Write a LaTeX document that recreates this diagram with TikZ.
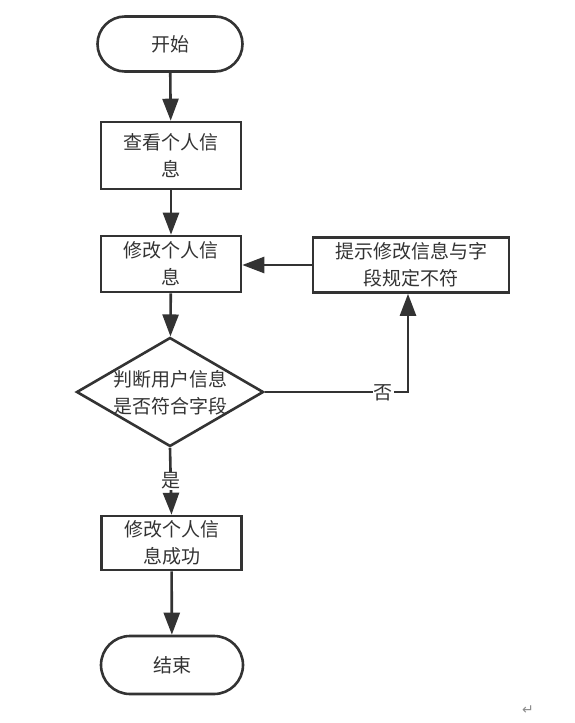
\documentclass[tikz,border=0pt]{standalone}
\usepackage{fontspec}
\newfontfamily\cjk{Noto Sans CJK SC}
\newfontfamily\symfont{DejaVu Sans}
\usetikzlibrary{shapes.geometric,shapes.misc,arrows.meta}
\definecolor{ln}{HTML}{333333}
\tikzset{
  base/.style={draw=ln, line width=2.6pt, fill=white, font=\cjk\fontsize{19}{27}\selectfont, text=black!80, align=center, inner sep=0pt},
  term/.style={base, rounded rectangle, minimum width=145pt, minimum height=55pt},
  proc/.style={base, rectangle, minimum width=140pt, minimum height=56pt},
  conn/.style={draw=ln, line width=2.6pt, -{Triangle[length=22pt,width=16pt]}},
  lab/.style={font=\cjk\fontsize{19}{22}\selectfont, text=black!80, fill=white, inner sep=1pt}
}
\begin{document}
\begin{tikzpicture}[x=1pt,y=-1pt]
\useasboundingbox (0,0) rectangle (575,723);
\node[term] (start) at (170,44) {开始};
\node[proc, minimum height=67pt] (view) at (171,155.5) {查看个人信\\息};
\node[proc] (edit) at (171,264) {修改个人信\\息};
\node[proc, minimum width=196pt, minimum height=55pt] (warn) at (411,265) {提示修改信息与字\\段规定不符};
\node[base, diamond, minimum width=187pt, minimum height=109pt] (check) at (170,392) {};
\node[font=\cjk\fontsize{19}{27}\selectfont, text=black!80, align=center] (checktxt) at (170,393) {判断用户信息\\是否符合字段};
\node[proc, minimum height=54pt] (ok) at (171.5,543) {修改个人信\\息成功};
\node[term, minimum width=142pt, minimum height=58pt] (end) at (172,665) {结束};
\coordinate (corner) at (408,392);
\draw[conn] (start) -- (view);
\draw[conn] (view) -- (edit);
\draw[conn] (edit) -- (check);
\draw[conn] (warn.west) -- (warn.west -| edit.east);
\draw[conn] (check.east) -- (corner) -- (corner |- warn.south);
\draw[conn] (check.south) -- (ok.north);
\draw[conn] (ok) -- (end);
\node[lab] (no) at (383,393) {否};
\node[lab] (yes) at (171,481) {是};
\node[font=\symfont\fontsize{14}{14}\selectfont, text=black!45] (para) at (528,710) {↵};
\end{tikzpicture}
\end{document}
